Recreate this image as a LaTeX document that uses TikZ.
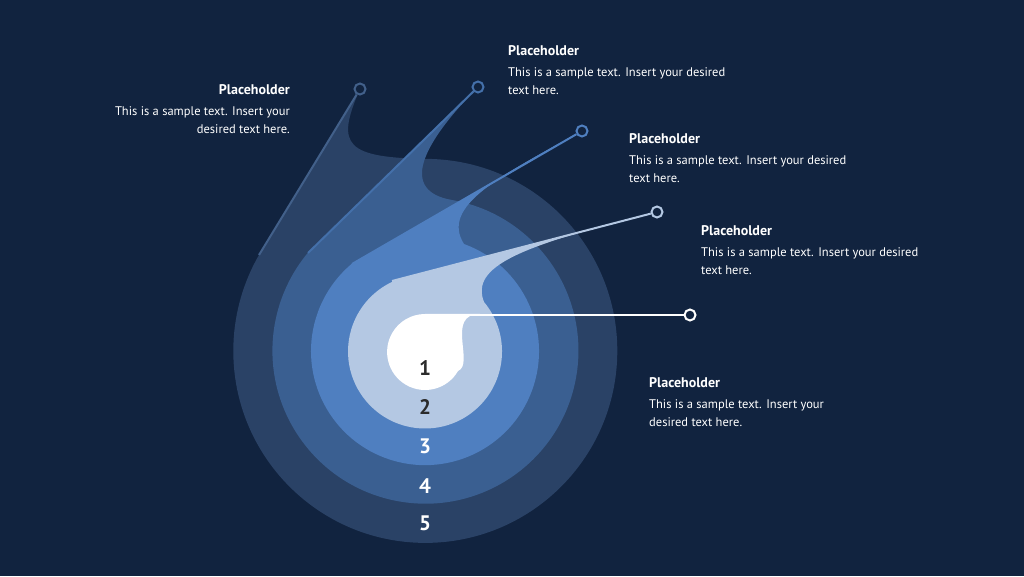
\documentclass[tikz,border=0pt]{standalone}
\usepackage{fontspec}
\setmainfont{PT Sans}
\usetikzlibrary{positioning}
\definecolor{bgblue}{HTML}{11233F}
\definecolor{dropE}{HTML}{2A4266}
\definecolor{dropD}{HTML}{3A5F91}
\definecolor{dropC}{HTML}{4F7FC0}
\definecolor{dropB}{HTML}{B4C8E3}
\definecolor{lineE}{HTML}{42608A}
\definecolor{lineD}{HTML}{4470AA}
\definecolor{numdark}{HTML}{2B2B2B}
\begin{document}
\begin{tikzpicture}[x=1pt,y=1pt
	,ring/.style={circle,draw,line width=2pt,fill=bgblue,minimum size=11pt,inner sep=0pt}
	,tail/.style={line width=2pt}
	,num/.style={font=\fontsize{21}{21}\selectfont\bfseries}
	,title/.style={font=\fontsize{14}{16}\selectfont\bfseries,text=white,inner sep=0pt}
	,body/.style={font=\fontsize{12.5}{18}\selectfont,text=white,inner sep=0pt}]
  \useasboundingbox[fill=bgblue] (0,0) rectangle (1024,576);

  % drops, outer to inner
  \fill[dropE] (259,321) -- (360,487)
    .. controls (335,430) and (345,418) .. (432,417)
    arc[start angle=88,end angle=-210,radius=192] -- cycle;
  \fill[dropD] (308,323) -- (478,489)
    .. controls (420,430) and (400,385) .. (452,376)
    arc[start angle=80,end angle=-220,radius=153] -- cycle;
  \fill[dropC] (352,312) -- (582,445)
    .. controls (500,400) and (440,370) .. (464,332)
    arc[start angle=70,end angle=-230,radius=114] -- cycle;
  \fill[dropB] (392,295) -- (657,364)
    .. controls (520,330) and (470,310) .. (484,274)
    arc[start angle=40,end angle=-245,radius=77] -- cycle;
  \fill[white] (425,262) -- (480,262)
    .. controls (445,262) and (475,212) .. (458,205)
    arc[start angle=-30,end angle=-270,radius=38] -- cycle;

  % tails and rings
  \coordinate (t5) at (259,321);
  \coordinate (t4) at (308,323);
  \coordinate (t3) at (352,312);
  \coordinate (t2) at (392,295);
  \coordinate (t1) at (425,261);
  \node[ring,draw=lineE] (r5) at (360,487) {};
  \node[ring,draw=lineD] (r4) at (478,489) {};
  \node[ring,draw=dropC] (r3) at (582,445) {};
  \node[ring,draw=dropB] (r2) at (657,364) {};
  \node[ring,draw=white] (r1) at (690,261) {};
  \draw[tail,lineE] (t5) -- (r5);
  \draw[tail,lineD] (t4) -- (r4);
  \draw[tail,dropC] (t3) -- (r3);
  \draw[tail,dropB] (t2) -- (r2);
  \draw[tail,white] (t1) -- (r1);

  % numbers
  \node[num,numdark] (n1) at (425,208) {1};
  \node[num,numdark] (n2) at (425,169) {2};
  \node[num,white] (n3) at (425,130) {3};
  \node[num,white] (n4) at (425,90) {4};
  \node[num,white] (n5) at (425,53) {5};

  % texts
  \node[title,anchor=north east] (h5) at (290,492) {Placeholder};
  \node[body,anchor=north east,align=right] (b5) at ([yshift=-12pt]h5.south east)
    {This is a sample text. Insert your\\desired text here.};
  \node[title,anchor=north west] (h4) at (508,531) {Placeholder};
  \node[body,anchor=north west,align=left] (b4) at ([yshift=-12pt]h4.south west)
    {This is a sample text. Insert your desired\\text here.};
  \node[title,anchor=north west] (h3) at (629,443) {Placeholder};
  \node[body,anchor=north west,align=left] (b3) at ([yshift=-12pt]h3.south west)
    {This is a sample text. Insert your desired\\text here.};
  \node[title,anchor=north west] (h2) at (701,351) {Placeholder};
  \node[body,anchor=north west,align=left] (b2) at ([yshift=-12pt]h2.south west)
    {This is a sample text. Insert your desired\\text here.};
  \node[title,anchor=north west] (h1) at (649,199) {Placeholder};
  \node[body,anchor=north west,align=left] (b1) at ([yshift=-12pt]h1.south west)
    {This is a sample text. Insert your\\desired text here.};
\end{tikzpicture}
\end{document}
